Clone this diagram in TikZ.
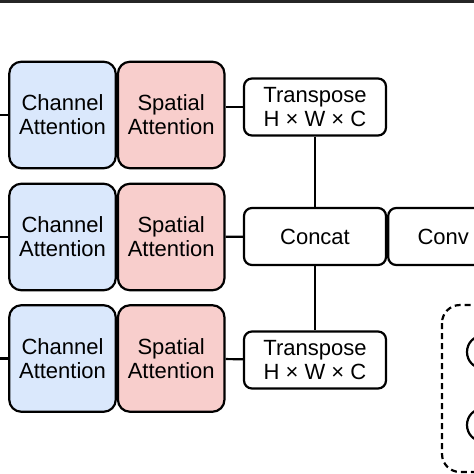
\documentclass[tikz,border=0pt]{standalone}
\usepackage{fontspec}
\setmainfont{Liberation Sans}
\usetikzlibrary{positioning}
\definecolor{chanblue}{HTML}{DAE8FC}
\definecolor{spred}{HTML}{F8CECC}
\tikzset{
  attbox/.style={draw, line width=2.2pt, rounded corners=12pt, minimum width=106.5pt,
    minimum height=106.5pt, inner sep=0pt, align=center,
    font=\fontsize{22}{24}\selectfont},
  chanbox/.style={attbox, fill=chanblue},
  spbox/.style={attbox, fill=spred},
  opbox/.style={draw, line width=2.2pt, rounded corners=8pt, minimum width=142pt,
    minimum height=57pt, inner sep=0pt, align=center,
    font=\fontsize{22}{24}\selectfont},
  link/.style={line width=2.2pt}
}

\begin{document}
\begin{tikzpicture}[x=1pt,y=-1pt]
  \useasboundingbox (0,0) rectangle (474,474);
  \clip (0,0) rectangle (474,474);
  \fill[black!85] (0,0) rectangle (474,2.5);
  % attention branches
  \foreach \r/\y in {1/115,2/237,3/358.5} {
    \coordinate (in\r) at (0,\y);
    \node[chanbox] (chan\r) at (62.5,\y) {Channel\\Attention};
    \node[spbox, right=0pt of chan\r] (sp\r) {Spatial\\Attention};
    \draw[link] (in\r) -- (chan\r);
  }
  % merging
  \node[opbox] (trans1) at (315,107) {Transpose\\H × W × C};
  \node[opbox] (concat) at (315,236.5) {Concat};
  \node[opbox] (trans3) at (315,360) {Transpose\\H × W × C};
  \node[opbox, minimum width=110pt, right=0pt of concat] (conv) {Conv};
  \draw[link] (sp1.east |- trans1.west) -- (trans1.west);
  \draw[link] (sp2) -- (concat);
  \draw[link] (sp3) -- (trans3);
  \draw[link] (trans1) -- (concat);
  \draw[link] (concat) -- (trans3);
  % legend, cut off
  \draw[line width=2.2pt, dash pattern=on 6pt off 4pt, rounded corners=18pt]
    (442,305) rectangle (540,472);
  \draw[line width=2.2pt] (482,352) ellipse (15pt and 16pt);
  \draw[line width=2.2pt] (482,425) ellipse (15pt and 16pt);
\end{tikzpicture}
\end{document}
